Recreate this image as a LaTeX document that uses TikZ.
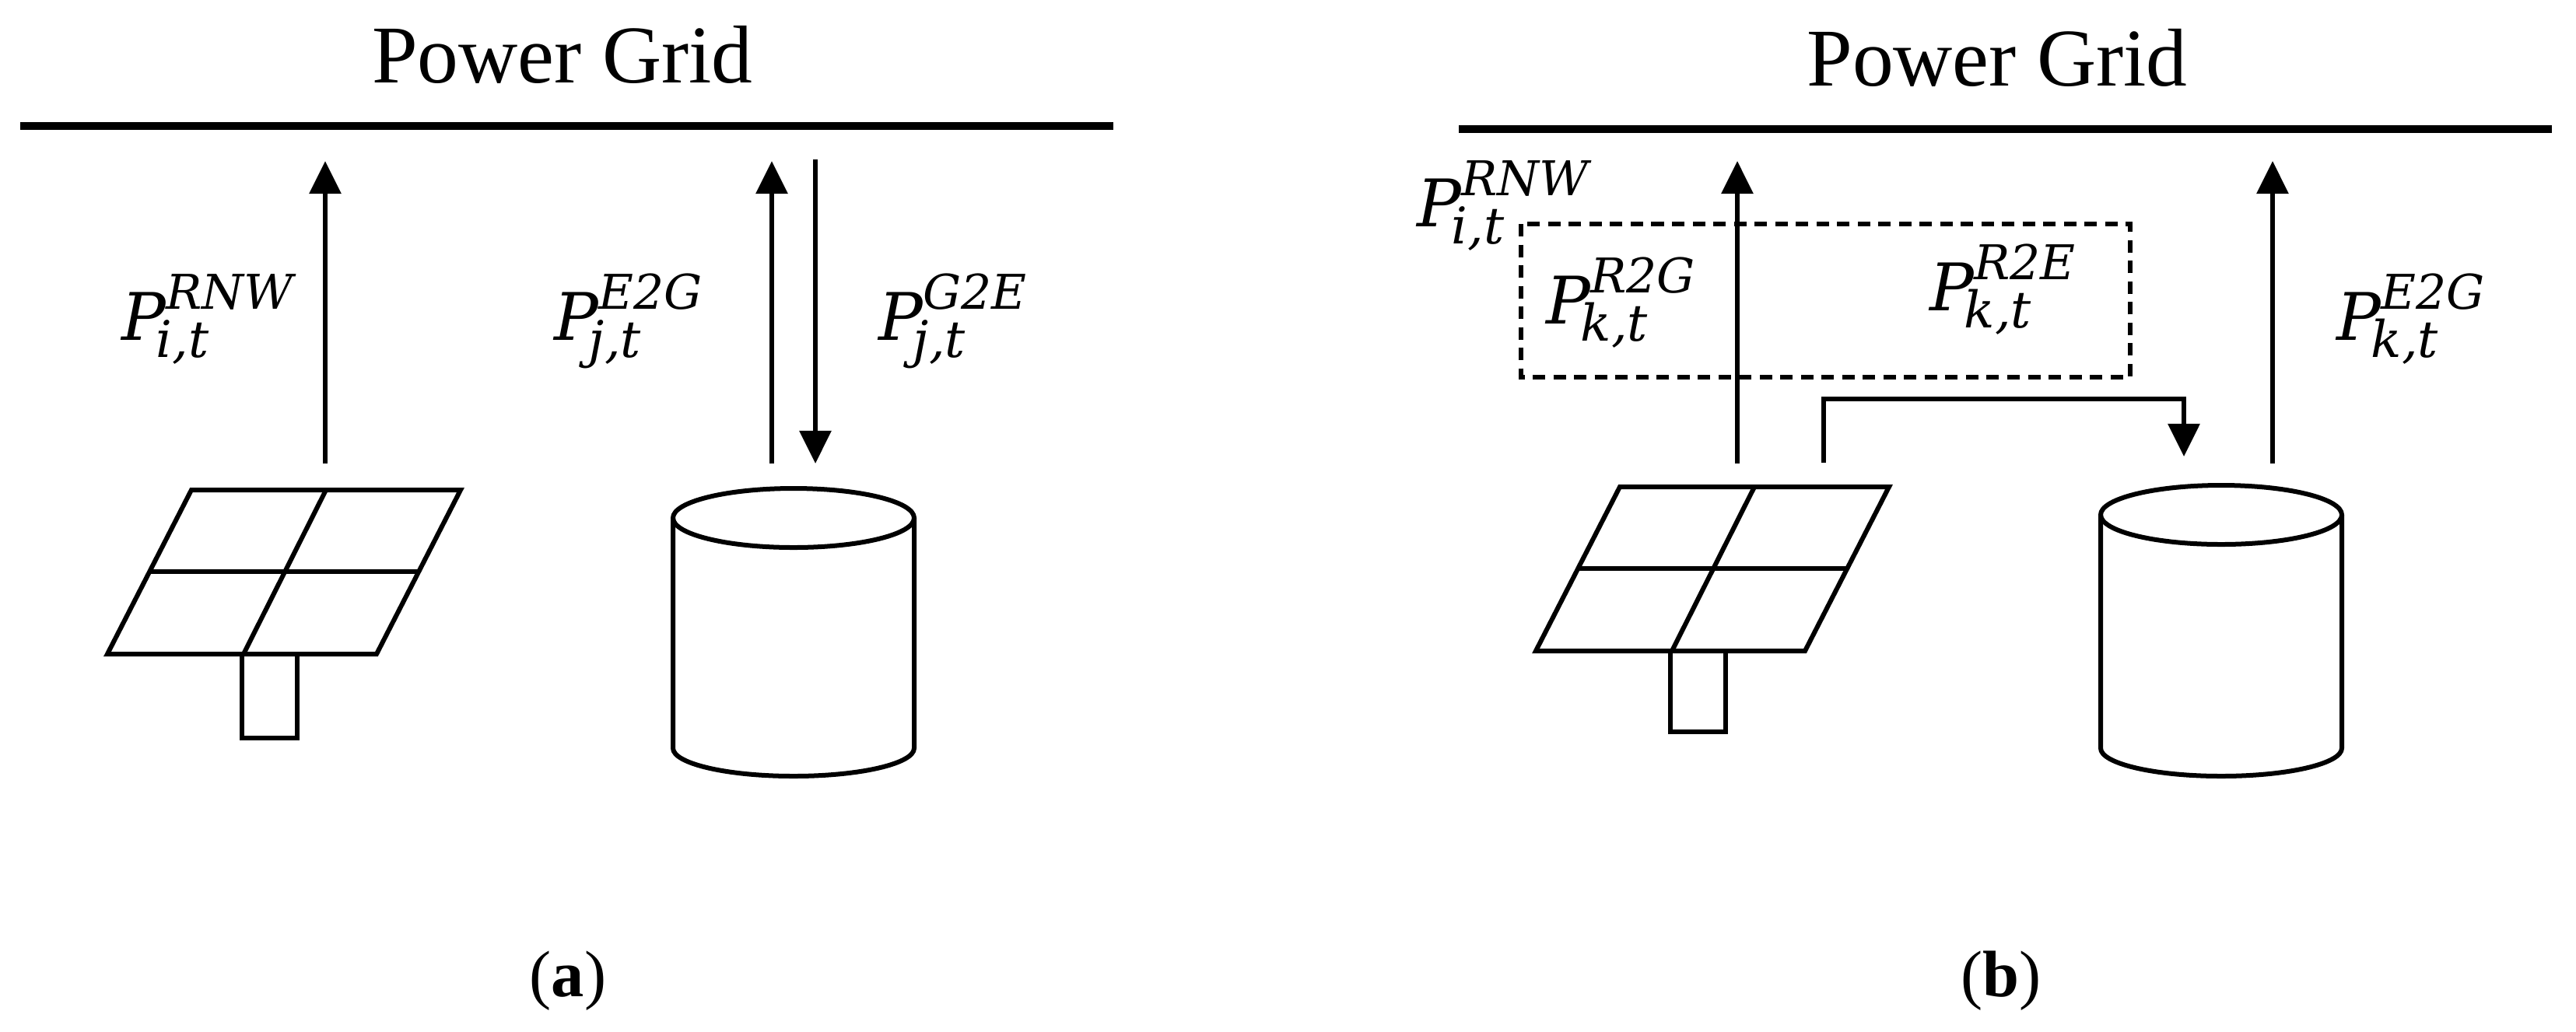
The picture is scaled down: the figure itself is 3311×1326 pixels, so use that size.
\documentclass[tikz,border=0pt]{standalone}
\usepackage{fontspec}
\setmainfont{Liberation Serif}
\newfontfamily\mathlike{DejaVu Serif}
\usetikzlibrary{arrows.meta}
\newcommand{\PL}[2]{{\mathlike\itshape\fontsize{24}{28}\selectfont P}\rlap{\kern-3.6pt\raisebox{-6.5pt}{\mathlike\itshape\fontsize{18.5}{20}\selectfont #1}}\raisebox{11.3pt}{\mathlike\itshape\fontsize{17.5}{20}\selectfont #2}}
\tikzset{
  px/.style={x=0.01cm,y=-0.01cm},
  thinline/.style={line width=0.06cm,line join=miter},
  bus/.style={line width=0.1cm},
  flow/.style={line width=0.06cm,-{Triangle[width=0.40cm,length=0.42cm]}},
  dashbox/.style={line width=0.06cm,dash pattern=on 0.16cm off 0.105cm},
  title/.style={anchor=base,inner sep=0,font=\fontsize{30}{32}\selectfont},
  lab/.style={anchor=base west,inner sep=0},
  subcap/.style={anchor=base,inner sep=0,font=\fontsize{24}{30}\selectfont}
}
\newcommand{\solarpanel}[3]{%
 \begin{scope}[xshift=#1*0.01cm,yshift=-#2*0.01cm,px]
  \draw[thinline] (108,0)--(454,0)--(346,211)--(0,211)--cycle;
  \draw[thinline] (55,105)--(400,105);
  \draw[thinline] (281,0)--(175,211);
  \draw[thinline] (173,211)rectangle(244,#3);
 \end{scope}}
\newcommand{\storagetank}[3]{%
 \begin{scope}[xshift=#1*0.01cm,yshift=-#2*0.01cm,px]
  \draw[thinline] (0,0) ellipse [x radius=155,y radius=38];
  \draw[thinline] (-155,0)--(-155,#3) arc[start angle=180,end angle=0,x radius=155,y radius=36]--(155,0);
 \end{scope}}
\begin{document}
\begin{tikzpicture}[px]
\useasboundingbox (0,0) rectangle (3311,1326);
% panel a
\node[title] (tA) at (723,106) {Power Grid};
\coordinate (busAl) at (26,162); \coordinate (busAr) at (1431,162);
\draw[bus] (busAl)--(busAr);
\coordinate (a1s) at (418,596); \coordinate (a1e) at (418,207);
\coordinate (a2s) at (992,596); \coordinate (a2e) at (992,207);
\coordinate (a3s) at (1048,205); \coordinate (a3e) at (1048,596);
\draw[flow] (a1s)--(a1e);
\draw[flow] (a2s)--(a2e);
\draw[flow] (a3s)--(a3e);
\node[lab] (la1) at (156,437) {\PL{i,t}{RNW}};
\node[lab] (la2) at (712,437) {\PL{j,t}{E2G}};
\node[lab] (la3) at (1129,437) {\PL{j,t}{G2E}};
\solarpanel{138}{630}{319}
\storagetank{1020}{666}{296}
\node[subcap] (ca) at (730,1281) {(\textbf{a})};
% panel b
\node[title] (tB) at (2567,110) {Power Grid};
\coordinate (busBl) at (1875,166); \coordinate (busBr) at (3280,166);
\draw[bus] (busBl)--(busBr);
\coordinate (b1s) at (2233,596); \coordinate (b1e) at (2233,207);
\coordinate (b2s) at (2921,596); \coordinate (b2e) at (2921,207);
\coordinate (b3s) at (2344,595); \coordinate (b3m) at (2344,513);
\coordinate (b3n) at (2807,513); \coordinate (b3e) at (2807,587);
\draw[flow] (b1s)--(b1e);
\draw[flow] (b2s)--(b2e);
\draw[flow] (b3s)--(b3m)--(b3n)--(b3e);
\coordinate (boxTL) at (1955,288); \coordinate (boxBR) at (2738,485);
\draw[dashbox] (boxTL) rectangle (boxBR);
\node[lab] (lb1) at (1821,291) {\PL{i,t}{RNW}};
\node[lab] (lb2) at (1987,416) {\PL{k,t}{R2G}};
\node[lab] (lb3) at (2480,399) {\PL{k,t}{R2E}};
\node[lab] (lb4) at (3003,437) {\PL{k,t}{E2G}};
\solarpanel{1974}{626}{315}
\storagetank{2855}{662}{300}
\node[subcap] (cb) at (2572,1281) {(\textbf{b})};
\end{tikzpicture}
\end{document}
